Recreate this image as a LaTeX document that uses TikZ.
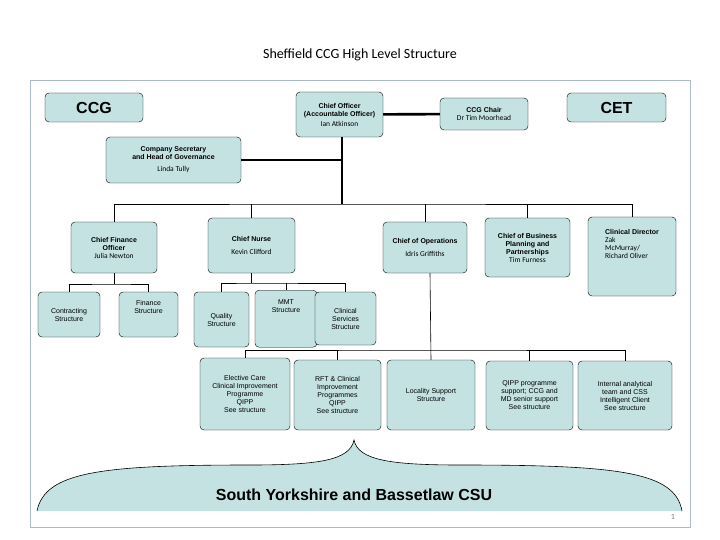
\documentclass[tikz,border=0pt]{standalone}
\usepackage{fontspec}
\setmainfont{Liberation Sans}
\newfontfamily\calfont{Carlito}
\definecolor{boxfill}{RGB}{196,226,226}
\definecolor{framecol}{RGB}{170,185,205}
\tikzset{
  unit/.style={draw, fill=boxfill, rounded corners=4pt, align=center, inner sep=1pt,
    font=\fontsize{7}{8}\selectfont},
  big/.style={unit, font=\fontsize{16}{18}\bfseries\selectfont},
  link/.style={draw, line width=0.6pt},
  thick link/.style={draw, line width=2.6pt}
}
\newcommand{\who}[1]{{\calfont\fontsize{7.5}{8.5}\selectfont #1}}
\begin{document}
\begin{tikzpicture}[x=1pt,y=-1pt]
    \useasboundingbox (0,0) rectangle (720,540);
    \node[font=\calfont\fontsize{14}{16}\selectfont] (title) at (360,55) {Sheffield CCG High Level Structure};
    \draw[framecol, line width=1pt] (30,81) rectangle (690,527);
    % top row
    \node[big, minimum width=98, minimum height=29] (ccg) at (94,107.5) {CCG};
    \node[big, minimum width=99, minimum height=29] (cet) at (616.5,107.5) {CET};
    \node[unit, minimum width=87, minimum height=45] (chief) at (339.5,114.5)
        {\textbf{Chief Officer}\\\textbf{(Accountable Officer)}\\[2pt]\who{Ian Atkinson}};
    \node[unit, minimum width=88, minimum height=32] (chair) at (484,114)
        {\textbf{CCG Chair}\\\who{Dr Tim Moorhead}};
    \node[unit, minimum width=135, minimum height=46] (sec) at (173.5,160)
        {\textbf{Company Secretary}\\\textbf{and Head of Governance}\\[4pt]\who{Linda Tully}};
    \coordinate (hub) at (342,160);
    \coordinate (bus) at (342,204);
    \draw[thick link] (chief) -- (chair);
    \draw[thick link] (sec) -- (hub);
    \draw[line width=1.5pt] (chief.south -| bus) -- (bus);
    % directors
    \node[unit, minimum width=86, minimum height=51] (cfo) at (114,247.5)
        {\textbf{Chief Finance}\\\textbf{Officer}\\\who{Julia Newton}};
    \node[unit, minimum width=87, minimum height=55] (nurse) at (251.5,245.5)
        {\textbf{Chief Nurse}\\[5pt]\who{Kevin Clifford}};
    \node[unit, minimum width=84, minimum height=51] (ops) at (425,247.5)
        {\textbf{Chief of Operations}\\[5pt]\who{Idris Griffiths}};
    \node[unit, minimum width=85, minimum height=59] (biz) at (527.5,247.5)
        {\textbf{Chief of Business}\\\textbf{Planning and}\\\textbf{Partnerships}\\\who{Tim Furness}};
    \node[unit, minimum width=88, minimum height=79, align=left] (clin) at (632,256.5)
        {\textbf{Clinical Director}\\\who{Zak}\\\who{McMurray/}\\\who{Richard Oliver}\\[18pt]\mbox{}};
    \draw[link] (cfo.north) |- (bus) -| (clin.north);
    \foreach \n in {nurse,ops,biz} \draw[link] (\n.north) -- (\n.north |- bus);
    % finance
    \node[unit, minimum width=62, minimum height=45] (contract) at (69,314.5) {Contracting\\Structure};
    \node[unit, minimum width=59, minimum height=45] (fin) at (148.5,314.5) {Finance\\Structure\\[8pt]\mbox{}};
    \coordinate (cfobus) at (114,284);
    \draw[link] (cfo.south) -- (cfobus);
    \draw[link] (contract.north) |- (cfobus) -| (fin.north);
    % nurse
    \node[unit, minimum width=55, minimum height=55] (qual) at (221.5,319.5) {Quality\\Structure};
    \node[unit, minimum width=62, minimum height=57, anchor=north] (mmt) at (286,290) {MMT\\Structure\\[18pt]\mbox{}};
    \node[unit, minimum width=61, minimum height=53] (cserv) at (345.5,318.5) {Clinical\\Services\\Structure};
    \coordinate (nbus) at (251,283);
    \draw[link] (nurse.south -| nbus) -- (nbus);
    \draw[link] (qual.north) |- (nbus) -| (cserv.north);
    \draw[link] (mmt.north) -- (mmt.north |- nbus);
    % operations
    \node[unit, minimum width=90, minimum height=72] (elect) at (245,394)
        {Elective Care\\Clinical Improvement\\Programme\\QIPP\\See structure};
    \node[unit, minimum width=87, minimum height=70] (rft) at (337.5,395)
        {RFT \& Clinical\\Improvement\\Programmes\\QIPP\\See structure};
    \node[unit, minimum width=88, minimum height=70] (local) at (431,395) {Locality Support\\Structure};
    \node[unit, minimum width=87, minimum height=69] (qipp) at (529.5,395.5)
        {QIPP programme\\support; CCG and\\MD senior support\\See structure};
    \node[unit, minimum width=94, minimum height=69] (intern) at (625,395.5)
        {Internal analytical\\team and CSS\\Intelligent Client\\See structure};
    \coordinate (obus) at (430,350);
    \draw[link] (ops.south -| obus) -- (local.north);
    \draw[link] (elect.north) |- (obus) -| (intern.north);
    \foreach \n in {rft,qipp} \draw[link] (\n.north) -- (\n.north |- obus);
    % support unit
    \fill[boxfill] (37,511) .. controls (45,472) and (100,465) .. (250,465)
        .. controls (320,465) and (350,460) .. (354,440)
        .. controls (358,460) and (390,465) .. (460,465)
        .. controls (620,465) and (675,472) .. (682,511) -- cycle;
    \draw[line width=0.6pt] (37,511) .. controls (45,472) and (100,465) .. (250,465)
        .. controls (320,465) and (350,460) .. (354,440)
        .. controls (358,460) and (390,465) .. (460,465)
        .. controls (620,465) and (675,472) .. (682,511);
    \node[font=\fontsize{16}{18}\bfseries\selectfont] (csu) at (354,495) {South Yorkshire and Bassetlaw CSU};
    \node[font=\calfont\fontsize{8}{9}\selectfont, text=gray] (page) at (673,517) {1};
\end{tikzpicture}
\end{document}
